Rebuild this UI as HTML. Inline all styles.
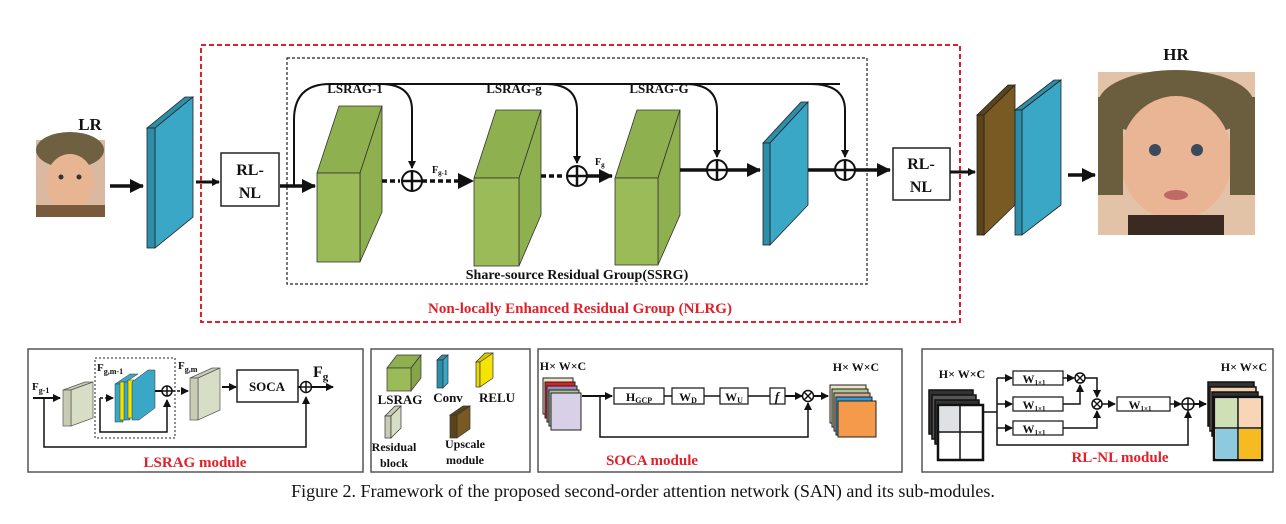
<!DOCTYPE html>
<html><head><meta charset="utf-8"><style>
html,body{margin:0;padding:0;background:#fff}
svg{display:block}
text{font-family:"Liberation Serif",serif;font-weight:bold;fill:#111}
</style></head><body>
<svg width="1286" height="524" viewBox="0 0 1286 524" xmlns="http://www.w3.org/2000/svg">
<defs>
<marker id="ah" markerWidth="8" markerHeight="8" refX="7" refY="4" orient="auto" markerUnits="userSpaceOnUse"><path d="M0,0 L8,4 L0,8 Z" fill="#111"/></marker>
<marker id="ahb" markerWidth="14" markerHeight="14" refX="13" refY="7" orient="auto" markerUnits="userSpaceOnUse"><path d="M0,0 L14,7 L0,14 Z" fill="#111"/></marker>
</defs>

<!-- LR image -->
<text x="90" y="130" font-size="17" text-anchor="middle">LR</text>
<rect x="36" y="140" width="69" height="77" fill="#d9b9a2"/>
<ellipse cx="70" cy="150" rx="34" ry="18" fill="#6e6040"/>
<ellipse cx="70" cy="182" rx="24" ry="28" fill="#e8b593"/>
<rect x="36" y="205" width="69" height="12" fill="#7a5a3c"/>
<circle cx="61" cy="177" r="2.5" fill="#333"/><circle cx="79" cy="177" r="2.5" fill="#333"/>
<line x1="110" y1="186" x2="143" y2="186" stroke="#111" stroke-width="3.5" marker-end="url(#ahb)"/>
<!-- blue slab 1 -->
<polygon points="147,128 185,97 193,97 155,128" fill="#2d8eaa" stroke="#222" stroke-width="0.8"/>
<polygon points="155,128 193,97 193,217 155,248" fill="#3ba7c6" stroke="#222" stroke-width="0.8"/>
<rect x="147" y="128" width="8" height="120" fill="#2d8eaa" stroke="#222" stroke-width="0.8"/>
<line x1="196" y1="182" x2="219" y2="182" stroke="#111" stroke-width="3" marker-end="url(#ah)"/>

<!-- NLRG box -->
<rect x="201" y="45" width="759" height="277" fill="none" stroke="#e0202a" stroke-width="2" stroke-dasharray="5,3"/>
<text x="580" y="313" font-size="15" text-anchor="middle" style="fill:#e0202a">Non-locally Enhanced  Residual Group (NLRG)</text>
<rect x="287" y="58" width="580" height="226" fill="none" stroke="#222" stroke-width="1.2" stroke-dasharray="3,2"/>
<text x="577" y="279" font-size="14" text-anchor="middle">Share-source Residual Group(SSRG)</text>

<rect x="221" y="153" width="58" height="53" fill="#fff" stroke="#222" stroke-width="1.5"/>
<text x="250" y="175" font-size="16" text-anchor="middle">RL-</text>
<text x="250" y="198" font-size="16" text-anchor="middle">NL</text>

<!-- skip curves -->
<path d="M294,186 L294,120 Q294,84 330,84 L840,84" fill="none" stroke="#111" stroke-width="2"/>
<path d="M380,84 Q412,84 412,110 L412,168" fill="none" stroke="#111" stroke-width="2" marker-end="url(#ah)"/>
<path d="M545,84 Q577,84 577,110 L577,163" fill="none" stroke="#111" stroke-width="2" marker-end="url(#ah)"/>
<path d="M685,84 Q717,84 717,110 L717,157" fill="none" stroke="#111" stroke-width="2" marker-end="url(#ah)"/>
<path d="M810,84 Q845,84 845,110 L845,157" fill="none" stroke="#111" stroke-width="2" marker-end="url(#ah)"/>

<line x1="280" y1="186" x2="315" y2="186" stroke="#111" stroke-width="3.5" marker-end="url(#ahb)"/>

<!-- green blocks -->
<g stroke="#333" stroke-width="0.8">
<polygon points="317,173 339,106 382,106 360,173" fill="#8fb04f"/>
<polygon points="360,173 382,106 382,212 360,262" fill="#8fb04f"/>
<rect x="317" y="173" width="43" height="89" fill="#9bbb59"/>
<polygon points="474,178 496,110 541,110 519,178" fill="#8fb04f"/>
<polygon points="519,178 541,110 541,215 519,266" fill="#8fb04f"/>
<rect x="474" y="178" width="45" height="88" fill="#9bbb59"/>
<polygon points="615,178 637,110 680,110 658,178" fill="#8fb04f"/>
<polygon points="658,178 680,110 680,215 658,265" fill="#8fb04f"/>
<rect x="615" y="178" width="43" height="87" fill="#9bbb59"/>
</g>
<text x="355" y="93" font-size="13" text-anchor="middle">LSRAG-1</text>
<text x="514" y="93" font-size="13" text-anchor="middle">LSRAG-g</text>
<text x="659" y="93" font-size="13" text-anchor="middle">LSRAG-G</text>

<!-- connectors -->
<line x1="382" y1="181" x2="400" y2="181" stroke="#111" stroke-width="3.5" stroke-dasharray="5,3"/>
<line x1="422" y1="181" x2="460" y2="181" stroke="#111" stroke-width="3.5" stroke-dasharray="5,3"/>
<path d="M458,173 L474,181 L458,189 Z" fill="#111"/>
<text x="432" y="173" font-size="10">F<tspan font-size="7" dy="2">g-1</tspan></text>
<line x1="541" y1="176" x2="565" y2="176" stroke="#111" stroke-width="3.5" stroke-dasharray="5,3"/>
<line x1="587" y1="176" x2="612" y2="176" stroke="#111" stroke-width="3.5" marker-end="url(#ahb)"/>
<text x="595" y="165" font-size="10">F<tspan font-size="7" dy="2">g</tspan></text>
<line x1="680" y1="170" x2="707" y2="170" stroke="#111" stroke-width="3.5"/>
<line x1="727" y1="170" x2="760" y2="170" stroke="#111" stroke-width="3.5" marker-end="url(#ahb)"/>
<line x1="808" y1="170" x2="835" y2="170" stroke="#111" stroke-width="3.5"/>
<line x1="855" y1="170" x2="890" y2="170" stroke="#111" stroke-width="3.5" marker-end="url(#ahb)"/>
<g fill="#fff" stroke="#111" stroke-width="2">
<circle cx="412" cy="181" r="10"/><circle cx="577" cy="176" r="10"/><circle cx="717" cy="170" r="10"/><circle cx="845" cy="170" r="10"/>
</g>
<g stroke="#111" stroke-width="2.5">
<line x1="402" y1="181" x2="422" y2="181"/><line x1="412" y1="171" x2="412" y2="191"/>
<line x1="567" y1="176" x2="587" y2="176"/><line x1="577" y1="166" x2="577" y2="186"/>
<line x1="707" y1="170" x2="727" y2="170"/><line x1="717" y1="160" x2="717" y2="180"/>
<line x1="835" y1="170" x2="855" y2="170"/><line x1="845" y1="160" x2="845" y2="180"/>
</g>

<!-- inner blue slab -->
<polygon points="763,143 801,102 808,102 770,143" fill="#2d8eaa" stroke="#222" stroke-width="0.8"/>
<polygon points="770,143 808,102 808,205 770,245" fill="#3ba7c6" stroke="#222" stroke-width="0.8"/>
<rect x="763" y="143" width="7" height="102" fill="#2d8eaa" stroke="#222" stroke-width="0.8"/>

<rect x="893" y="148" width="57" height="52" fill="#fff" stroke="#222" stroke-width="1.5"/>
<text x="921" y="169" font-size="16" text-anchor="middle">RL-</text>
<text x="921" y="192" font-size="16" text-anchor="middle">NL</text>
<line x1="950" y1="172" x2="975" y2="172" stroke="#111" stroke-width="3" marker-end="url(#ah)"/>

<!-- upscale + conv -->
<polygon points="977,115 1008,85 1015,85 984,115" fill="#5a4418" stroke="#222" stroke-width="0.8"/>
<polygon points="984,115 1015,85 1015,205 984,235" fill="#7a5a23" stroke="#222" stroke-width="0.8"/>
<rect x="977" y="115" width="7" height="120" fill="#5a4418" stroke="#222" stroke-width="0.8"/>
<polygon points="1015,110 1054,80 1061,80 1022,110" fill="#2d8eaa" stroke="#222" stroke-width="0.8"/>
<polygon points="1022,110 1061,80 1061,205 1022,235" fill="#3ba7c6" stroke="#222" stroke-width="0.8"/>
<rect x="1015" y="110" width="7" height="125" fill="#2d8eaa" stroke="#222" stroke-width="0.8"/>
<line x1="1068" y1="175" x2="1095" y2="175" stroke="#111" stroke-width="3.5" marker-end="url(#ahb)"/>

<!-- HR image -->
<text x="1176" y="60" font-size="17" text-anchor="middle">HR</text>
<rect x="1098" y="72" width="157" height="163" fill="#e3c3a8"/>
<ellipse cx="1176" cy="104" rx="78" ry="34" fill="#6a5e3e"/>
<ellipse cx="1176" cy="158" rx="56" ry="62" fill="#eab594"/>
<rect x="1098" y="97" width="25" height="98" fill="#6a5e3e"/>
<rect x="1230" y="97" width="25" height="98" fill="#6a5e3e"/>
<rect x="1128" y="215" width="96" height="20" fill="#3a2a22"/>
<circle cx="1155" cy="150" r="6" fill="#3a4a5a"/><circle cx="1197" cy="150" r="6" fill="#3a4a5a"/>
<ellipse cx="1176" cy="195" rx="12" ry="5" fill="#c06a66"/>

<!-- Panel 1 LSRAG -->
<rect x="28" y="349" width="335" height="123" fill="#fff" stroke="#555" stroke-width="1.5"/>
<text x="32" y="390" font-size="11">F<tspan font-size="8" dy="3">g-1</tspan></text>
<line x1="33" y1="398" x2="60" y2="398" stroke="#111" stroke-width="2" marker-end="url(#ah)"/>
<g stroke="#555" stroke-width="0.7">
<polygon points="63,390 85,382 93,382 71,390" fill="#c8ccb4"/>
<polygon points="71,390 93,382 93,418 71,426" fill="#d8ddc6"/>
<rect x="63" y="390" width="8" height="36" fill="#c8ccb4"/>
</g>
<rect x="95" y="358" width="80" height="80" fill="none" stroke="#222" stroke-width="1" stroke-dasharray="2,2"/>
<text x="97" y="371" font-size="11">F<tspan font-size="8" dy="3">g,m-1</tspan></text>
<line x1="100" y1="398" x2="113" y2="398" stroke="#111" stroke-width="1.5" stroke-dasharray="3,2" marker-end="url(#ah)"/>
<g stroke="#333" stroke-width="0.5">
<polygon points="115,384 130,374 138,374 123,384" fill="#3ba7c6"/>
<rect x="115" y="384" width="8" height="38" fill="#3ba7c6"/>
<rect x="120" y="382" width="6" height="38" fill="#f5e400"/>
<rect x="124" y="382" width="6" height="38" fill="#3ba7c6"/>
<rect x="128" y="380" width="6" height="38" fill="#f5e400"/>
<polygon points="132,382 148,370 155,370 155,408 139,420 132,420" fill="#3ba7c6"/>
</g>
<line x1="155" y1="391" x2="162" y2="391" stroke="#111" stroke-width="2"/>
<path d="M100,398 L100,432 L167,432 L167,400" fill="none" stroke="#111" stroke-width="1.5" marker-end="url(#ah)"/>
<circle cx="167" cy="391" r="5" fill="#fff" stroke="#111" stroke-width="1.5"/>
<line x1="162" y1="391" x2="172" y2="391" stroke="#111" stroke-width="1.5"/><line x1="167" y1="386" x2="167" y2="396" stroke="#111" stroke-width="1.5"/>
<line x1="172" y1="391" x2="188" y2="391" stroke="#111" stroke-width="1.5" stroke-dasharray="3,2" marker-end="url(#ah)"/>
<text x="178" y="369" font-size="11">F<tspan font-size="8" dy="3">g,m</tspan></text>
<g stroke="#555" stroke-width="0.7">
<polygon points="190,378 212,368 220,368 198,378" fill="#c8ccb4"/>
<polygon points="198,378 220,368 220,410 198,420" fill="#d8ddc6"/>
<rect x="190" y="378" width="8" height="42" fill="#c8ccb4"/>
</g>
<line x1="222" y1="387" x2="236" y2="387" stroke="#111" stroke-width="2" marker-end="url(#ah)"/>
<rect x="237" y="370" width="61" height="32" fill="#fff" stroke="#222" stroke-width="1.5"/>
<text x="267" y="391" font-size="13" text-anchor="middle">SOCA</text>
<line x1="298" y1="387" x2="301" y2="387" stroke="#111" stroke-width="2"/>
<path d="M44,398 L44,447 L306,447 L306,397" fill="none" stroke="#111" stroke-width="1.5" marker-end="url(#ah)"/>
<circle cx="306" cy="387" r="5.5" fill="#fff" stroke="#111" stroke-width="1.5"/>
<line x1="300" y1="387" x2="312" y2="387" stroke="#111" stroke-width="1.5"/><line x1="306" y1="381" x2="306" y2="393" stroke="#111" stroke-width="1.5"/>
<line x1="312" y1="387" x2="333" y2="387" stroke="#111" stroke-width="2" marker-end="url(#ah)"/>
<text x="313" y="377" font-size="16">F<tspan font-size="11" dy="3">g</tspan></text>
<text x="195" y="467" font-size="15" text-anchor="middle" style="fill:#e0202a">LSRAG module</text>

<!-- Panel 2 legend -->
<rect x="371" y="349" width="159" height="123" fill="#fff" stroke="#555" stroke-width="1.5"/>
<g stroke="#333" stroke-width="0.7">
<polygon points="387,368 397,355 421,355 411,368" fill="#8fb04f"/>
<polygon points="411,368 421,355 421,378 411,391" fill="#86a548"/>
<rect x="387" y="368" width="24" height="23" fill="#9bbb59"/>
<polygon points="437,360 442,355 448,355 443,360" fill="#2d8eaa"/>
<rect x="437" y="360" width="6" height="28" fill="#2d8eaa"/>
<polygon points="443,360 448,355 448,383 443,388" fill="#3ba7c6"/>
<polygon points="476,362 485,353 493,353 484,362" fill="#d8c800"/>
<rect x="476" y="362" width="4" height="25" fill="#e8d800"/>
<polygon points="480,362 493,353 493,378 480,387" fill="#f5e400"/>
<polygon points="385,416 395,406 401,406 391,416" fill="#c8ccb4"/>
<rect x="385" y="416" width="6" height="22" fill="#c8ccb4"/>
<polygon points="391,416 401,406 401,428 391,438" fill="#d8ddc6"/>
<polygon points="450,415 463,406 470,406 457,415" fill="#5a4418"/>
<rect x="450" y="415" width="7" height="23" fill="#5a4418"/>
<polygon points="457,415 470,406 470,429 457,438" fill="#7a5a23"/>
</g>
<text x="400" y="404" font-size="13" text-anchor="middle">LSRAG</text>
<text x="448" y="402" font-size="13" text-anchor="middle">Conv</text>
<text x="497" y="402" font-size="13" text-anchor="middle">RELU</text>
<text x="394" y="451" font-size="12" text-anchor="middle">Residual</text>
<text x="394" y="467" font-size="12" text-anchor="middle">block</text>
<text x="465" y="448" font-size="12" text-anchor="middle">Upscale</text>
<text x="465" y="464" font-size="12" text-anchor="middle">module</text>

<!-- Panel 3 SOCA -->
<rect x="538" y="349" width="364" height="123" fill="#fff" stroke="#555" stroke-width="1.5"/>
<text x="563" y="370" font-size="12" text-anchor="middle">H× W×C</text>
<g stroke="#222" stroke-width="1">
<rect x="543" y="378" width="30" height="36" fill="#f0e0c8"/>
<rect x="545" y="382" width="30" height="36" fill="#e02020"/>
<rect x="547" y="386" width="30" height="36" fill="#9a8abd"/>
<rect x="549" y="390" width="30" height="36" fill="#a8c890"/>
<rect x="551" y="393" width="30" height="37" fill="#d8d0e6"/>
</g>
<line x1="582" y1="396" x2="612" y2="396" stroke="#111" stroke-width="2" marker-end="url(#ah)"/>
<g fill="#fff" stroke="#222" stroke-width="1.3">
<rect x="614" y="388" width="50" height="16"/><rect x="672" y="388" width="32" height="16"/>
<rect x="720" y="388" width="28" height="16"/><rect x="770" y="388" width="15" height="16"/>
</g>
<line x1="664" y1="396" x2="672" y2="396" stroke="#111" stroke-width="1.5"/>
<line x1="704" y1="396" x2="720" y2="396" stroke="#111" stroke-width="1.5"/>
<line x1="748" y1="396" x2="770" y2="396" stroke="#111" stroke-width="1.5"/>
<line x1="785" y1="396" x2="802" y2="396" stroke="#111" stroke-width="2" marker-end="url(#ah)"/>
<text x="639" y="401" font-size="12" text-anchor="middle">H<tspan font-size="8" dy="2">GCP</tspan></text>
<text x="688" y="401" font-size="12" text-anchor="middle">W<tspan font-size="8" dy="2">D</tspan></text>
<text x="734" y="401" font-size="12" text-anchor="middle">W<tspan font-size="8" dy="2">U</tspan></text>
<text x="777" y="401" font-size="13" text-anchor="middle" font-style="italic">f</text>
<path d="M600,396 L600,437 L808,437 L808,403" fill="none" stroke="#111" stroke-width="1.5" marker-end="url(#ah)"/>
<circle cx="808" cy="396" r="5.5" fill="#fff" stroke="#111" stroke-width="1.5"/>
<path d="M804,392 L812,400 M812,392 L804,400" stroke="#111" stroke-width="1.5"/>
<line x1="814" y1="396" x2="828" y2="396" stroke="#111" stroke-width="2" marker-end="url(#ah)"/>
<text x="856" y="371" font-size="12" text-anchor="middle">H× W×C</text>
<g stroke="#222" stroke-width="1">
<rect x="830" y="385" width="36" height="38" fill="#f0e0c8"/>
<rect x="832" y="389" width="36" height="38" fill="#a8c890"/>
<rect x="834" y="393" width="36" height="38" fill="#e0a090"/>
<rect x="836" y="397" width="36" height="38" fill="#2aa0d8"/>
<rect x="838" y="401" width="38" height="36" fill="#f49a4a"/>
</g>
<text x="652" y="465" font-size="15" text-anchor="middle" style="fill:#e0202a">SOCA module</text>

<!-- Panel 4 RL-NL -->
<rect x="922" y="349" width="351" height="123" fill="#fff" stroke="#555" stroke-width="1.5"/>
<text x="962" y="378" font-size="12" text-anchor="middle">H× W×C</text>
<g stroke="#111" stroke-width="1.5">
<rect x="929" y="390" width="44" height="44" fill="#333"/>
<rect x="932" y="395" width="44" height="44" fill="#555"/>
<rect x="935" y="400" width="44" height="44" fill="#333"/>
<rect x="938" y="405" width="45" height="55" fill="#fff" stroke-width="2.5"/>
<rect x="940" y="407" width="20" height="24" fill="#dfe2e4" stroke="none"/>
<line x1="960" y1="405" x2="960" y2="460"/><line x1="938" y1="432" x2="983" y2="432"/>
</g>
<line x1="984" y1="412" x2="997" y2="412" stroke="#111" stroke-width="1.5"/>
<path d="M997,378 L997,445 L1188,445 L1188,411" fill="none" stroke="#111" stroke-width="1.5" marker-end="url(#ah)"/>
<line x1="997" y1="378" x2="1012" y2="378" stroke="#111" stroke-width="1.5" marker-end="url(#ah)"/>
<line x1="997" y1="404" x2="1012" y2="404" stroke="#111" stroke-width="1.5" marker-end="url(#ah)"/>
<line x1="997" y1="428" x2="1012" y2="428" stroke="#111" stroke-width="1.5" marker-end="url(#ah)"/>
<g fill="#fff" stroke="#222" stroke-width="1.3">
<rect x="1013" y="371" width="50" height="14"/><rect x="1013" y="397" width="50" height="14"/><rect x="1013" y="421" width="50" height="14"/>
<rect x="1117" y="397" width="53" height="14"/>
</g>
<text x="1034" y="383" font-size="12" text-anchor="middle">W<tspan font-size="7" dy="2">1×1</tspan></text>
<text x="1034" y="409" font-size="12" text-anchor="middle">W<tspan font-size="7" dy="2">1×1</tspan></text>
<text x="1034" y="433" font-size="12" text-anchor="middle">W<tspan font-size="7" dy="2">1×1</tspan></text>
<text x="1140" y="409" font-size="12" text-anchor="middle">W<tspan font-size="7" dy="2">1×1</tspan></text>
<line x1="1063" y1="378" x2="1074" y2="378" stroke="#111" stroke-width="1.5" marker-end="url(#ah)"/>
<path d="M1063,404 L1080,404 L1080,385" fill="none" stroke="#111" stroke-width="1.5" marker-end="url(#ah)"/>
<path d="M1085,378 L1097,378 L1097,397" fill="none" stroke="#111" stroke-width="1.5" marker-end="url(#ah)"/>
<path d="M1063,428 L1097,428 L1097,411" fill="none" stroke="#111" stroke-width="1.5" marker-end="url(#ah)"/>
<line x1="1102" y1="404" x2="1115" y2="404" stroke="#111" stroke-width="1.5" marker-end="url(#ah)"/>
<line x1="1170" y1="404" x2="1181" y2="404" stroke="#111" stroke-width="1.5" marker-end="url(#ah)"/>
<circle cx="1080" cy="378" r="5" fill="#fff" stroke="#111" stroke-width="1.5"/>
<path d="M1076,374 L1084,382 M1084,374 L1076,382" stroke="#111" stroke-width="1.3"/>
<circle cx="1097" cy="404" r="5" fill="#fff" stroke="#111" stroke-width="1.5"/>
<path d="M1093,400 L1101,408 M1101,400 L1093,408" stroke="#111" stroke-width="1.3"/>
<circle cx="1188" cy="404" r="6" fill="#fff" stroke="#111" stroke-width="1.5"/>
<path d="M1182,404 L1194,404 M1188,398 L1188,410" stroke="#111" stroke-width="1.5"/>
<line x1="1194" y1="404" x2="1206" y2="404" stroke="#111" stroke-width="2" marker-end="url(#ah)"/>
<text x="1244" y="371" font-size="12" text-anchor="middle">H× W×C</text>
<g stroke="#111" stroke-width="1.5">
<rect x="1208" y="382" width="46" height="44" fill="#333"/>
<rect x="1210" y="387" width="46" height="44" fill="#f0d0b0"/>
<rect x="1212" y="392" width="46" height="44" fill="#333"/>
<rect x="1214" y="397" width="48" height="63" fill="#fff" stroke-width="2.5"/>
<rect x="1216" y="399" width="22" height="29" fill="#cfe0b4" stroke="none"/>
<rect x="1239" y="399" width="22" height="29" fill="#f8d5b5" stroke="none"/>
<rect x="1216" y="429" width="22" height="30" fill="#8ecadd" stroke="none"/>
<rect x="1239" y="429" width="22" height="30" fill="#f6bb20" stroke="none"/>
<line x1="1238" y1="397" x2="1238" y2="460"/><line x1="1214" y1="428" x2="1262" y2="428"/>
</g>
<text x="1120" y="462" font-size="15" text-anchor="middle" style="fill:#e0202a">RL-NL module</text>

<text x="643" y="497" font-size="18" text-anchor="middle" style="font-weight:normal">Figure 2. Framework of the proposed second-order attention network (SAN) and its sub-modules.</text>
</svg>
</body></html>
